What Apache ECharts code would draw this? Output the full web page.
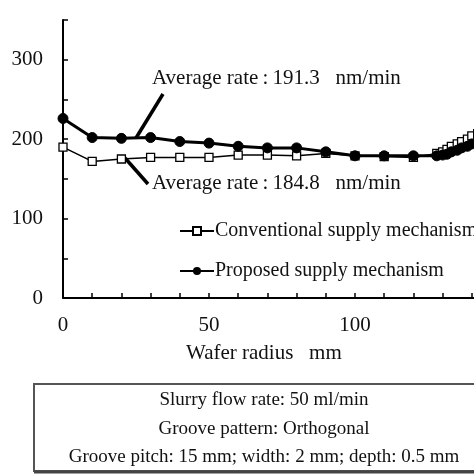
<!DOCTYPE html>
<html>
<head>
<meta charset="utf-8">
<script src="https://cdn.jsdelivr.net/npm/echarts@6/dist/echarts.min.js"></script>
<style>
  html, body { margin: 0; padding: 0; background: #fff; }
  #main { width: 474px; height: 474px; }
</style>
</head>
<body>
<div id="main"></div>
<script>
// 半径 (mm)
var radius = [0, 10, 20, 30, 40, 50, 60, 70, 80, 90, 100, 110, 120, 128, 130, 131.5, 133, 135, 136.5, 138.5, 140, 142];
// 研磨速率 nm/min
var rateConventional = [190, 172, 175, 177, 177, 177, 180, 180, 179, 182, 179, 178, 177, 182, 184, 187, 191, 194, 197, 200, 204, 207];
var rateProposed = [226, 202, 201, 202, 197, 195, 191, 189, 189, 184, 179, 179, 179, 179, 180, 181, 184, 186, 189, 191, 194, 197];
var xLabels = [0, 50, 100, 150];
var yLabels = [0, 100, 200, 300];

var serif = "'Liberation Serif', 'DejaVu Serif', serif";

function pairs(xs, ys) {
  return xs.map(function (x, i) { return [x, ys[i]]; });
}

var myChart = echarts.init(document.getElementById("main"));
var option = {
  backgroundColor: "#fff",
  animation: false,
  grid: { left: 63, top: 20, width: 438, height: 278, outerBoundsMode: "none", containLabel: false },
  legend: {
    orient: "vertical",
    left: 174,
    top: 216,
    itemWidth: 34,
    itemHeight: 10,
    itemGap: 20,
    textStyle: { fontFamily: serif, fontSize: 20, color: "#111", padding: [0, 0, 0, -4] },
    data: ["Conventional supply mechanism", "Proposed supply mechanism"]
  },
  xAxis: {
    type: "value",
    min: 0,
    max: 150,
    interval: 10,
    axisLine: { lineStyle: { color: "#000", width: 2 } },
    axisTick: { inside: true, length: 5, lineStyle: { color: "#000", width: 1.5 } },
    splitLine: { show: false },
    axisLabel: {
      margin: 17,
      fontFamily: serif,
      fontSize: 21,
      color: "#111",
      formatter: function (v) { return xLabels.indexOf(v) >= 0 ? v : ""; }
    }
  },
  yAxis: {
    type: "value",
    min: 0,
    max: 350,
    interval: 50,
    axisLine: { show: true, lineStyle: { color: "#000", width: 2 } },
    axisTick: { show: true, inside: true, length: 5, lineStyle: { color: "#000", width: 1.5 } },
    splitLine: { show: false },
    axisLabel: {
      margin: 20,
      fontFamily: serif,
      fontSize: 21,
      color: "#111",
      formatter: function (v) { return yLabels.indexOf(v) >= 0 ? v : ""; }
    }
  },
  series: [
    {
      name: "Conventional supply mechanism",
      type: "line",
      data: pairs(radius, rateConventional),
      symbol: "rect",
      symbolSize: 8,
      clip: false,
      lineStyle: { color: "#000", width: 1.5 },
      itemStyle: { color: "#fff", borderColor: "#000", borderWidth: 1.3 }
    },
    {
      name: "Proposed supply mechanism",
      type: "line",
      data: pairs(radius, rateProposed),
      symbol: "circle",
      symbolSize: 10,
      clip: false,
      lineStyle: { color: "#000", width: 3 },
      itemStyle: { color: "#000", borderColor: "#000" }
    }
  ],
  graphic: [
    { type: "text", left: 152, top: 68, style: { text: "Average rate\u2009:\u2009191.3   nm/min", font: "21px " + serif, fill: "#111" } },
    { type: "text", left: 152, top: 173, style: { text: "Average rate\u2009:\u2009184.8   nm/min", font: "21px " + serif, fill: "#111" } },
    { type: "line", shape: { x1: 163, y1: 94, x2: 136, y2: 138 }, style: { stroke: "#000", lineWidth: 3.5 } },
    { type: "line", shape: { x1: 125, y1: 158, x2: 148, y2: 184 }, style: { stroke: "#000", lineWidth: 3.5 } },
    { type: "text", left: 186, top: 343, style: { text: "Wafer radius   mm", font: "21px " + serif, fill: "#111" } },
    { type: "rect", shape: { x: 34, y: 384, width: 470, height: 87 }, style: { fill: "#fff", stroke: "#555", lineWidth: 2 } },
    { type: "line", shape: { x1: 34, y1: 472, x2: 474, y2: 472 }, style: { stroke: "#444", lineWidth: 3 } },
    { type: "text", x: 264, y: 400, style: { text: "Slurry flow rate: 50 ml/min", font: "19px " + serif, fill: "#111", align: "center", verticalAlign: "middle" } },
    { type: "text", x: 264, y: 429, style: { text: "Groove pattern: Orthogonal", font: "19px " + serif, fill: "#111", align: "center", verticalAlign: "middle" } },
    { type: "text", x: 264, y: 457, style: { text: "Groove pitch: 15 mm; width: 2 mm; depth: 0.5 mm", font: "19px " + serif, fill: "#111", align: "center", verticalAlign: "middle" } }
  ]
};
myChart.setOption(option);
</script>
</body>
</html>
